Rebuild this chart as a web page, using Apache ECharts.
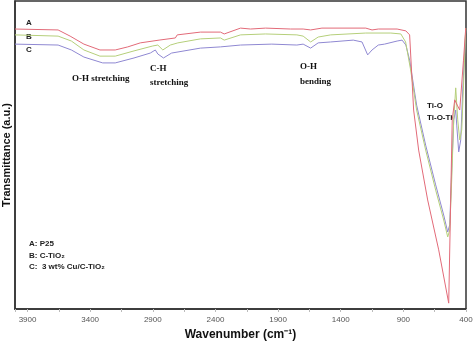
<!DOCTYPE html>
<html>
<head>
<meta charset="utf-8">
<script src="https://cdn.jsdelivr.net/npm/echarts@6/dist/echarts.min.js"></script>
<style>html,body{margin:0;padding:0;background:#fff}#c{width:474px;height:343px}</style>
</head>
<body>
<div id="c"></div>
<script>
// Wavenumber (cm-1) and transmittance (a.u., 0-100 scale)
const wnA = [4000,3656,3560,3450,3322,3200,3100,3000,2850,2720,2705,2520,2360,2330,2200,2120,2000,1800,1700,1640,1550,1200,1150,1100,950,880,850,818,778,706,618,538,510,490,470,450,420,402];
const tA  = [90.9,90.6,88.6,86.0,84.1,84.1,85.1,86.4,87.3,88.0,89.0,89.9,89.9,89.3,91.2,90.9,91.2,90.9,90.9,90.6,91.2,91.2,90.6,90.9,90.9,90.3,89.0,64.6,51.6,35.4,19.2,1.9,61.4,67.9,66.2,64.6,80.8,91.2];

const wnB = [4000,3656,3550,3450,3322,3200,3050,2900,2860,2820,2760,2700,2520,2360,2330,2200,2000,1750,1700,1640,1580,1480,1200,1000,920,882,842,794,722,642,578,546,530,514,498,482,466,450,434,418,402];
const tB  = [89.0,88.6,87.0,84.1,82.1,82.1,83.8,85.4,85.7,84.1,85.7,86.4,87.7,88.0,87.3,89.0,89.3,89.0,88.6,86.7,88.3,89.0,89.6,89.6,89.3,86.7,77.6,64.6,51.6,38.6,28.9,23.4,25.6,41.9,61.4,71.8,61.4,54.9,58.1,74.4,91.2];

const wnC = [4000,3656,3550,3450,3300,3200,3050,2920,2880,2860,2815,2750,2520,2360,2200,1950,1750,1700,1640,1580,1480,1300,1230,1185,1150,1100,1050,950,910,880,850,794,722,642,578,546,530,514,498,482,474,458,442,426,402];
const tC  = [86.0,85.7,84.1,81.8,79.9,79.9,81.5,83.1,84.1,82.8,81.5,83.1,84.7,85.1,85.7,86.0,85.7,86.0,84.7,86.4,86.7,87.3,86.7,82.5,84.1,85.7,86.0,87.0,87.3,85.7,80.8,66.2,53.2,40.3,30.5,25.0,27.3,45.1,61.4,64.6,59.7,51.0,54.9,71.1,90.6];

const xTicks = [3900,3400,2900,2400,1900,1400,900,400];
const seriesNames = ['A','B','C'];
const legendLines = ['A: P25','B: C-TiO₂','C:  3 wt% Cu/C-TiO₂'];

const zip = (a,b) => a.map((v,i)=>[v,b[i]]);
const chart = echarts.init(document.getElementById('c'), null, {renderer:'canvas'});

const serif = '"Liberation Serif", "DejaVu Serif", serif';
const sans = '"Liberation Sans", Arial, sans-serif';

const option = {
  animation:false,
  grid:{left:15,right:8,top:1,bottom:34,outerBoundsMode:'none',containLabel:false,show:true,borderColor:'#333',borderWidth:1.5,backgroundColor:'transparent'},
  xAxis:{
    type:'value', inverse:true, min:400, max:4000, interval:500,
    name:'Wavenumber (cm⁻¹)', nameLocation:'middle', nameGap:20,
    nameTextStyle:{fontFamily:sans,fontWeight:'bold',fontSize:12,color:'#111'},
    axisLine:{show:true,lineStyle:{color:'#333',width:1.5}},
    axisTick:{show:true,length:3,inside:false,lineStyle:{color:'#bbb'}},
    minorTick:{show:true,splitNumber:2,length:3,lineStyle:{color:'#bbb'}},
    axisLabel:{show:true,fontFamily:sans,fontSize:8,color:'#555',margin:7,showMaxLabel:false,hideOverlap:false,
      formatter:v=> xTicks.includes(v)? String(v):''},
    splitLine:{show:false}
  },
  yAxis:{
    type:'value', min:0, max:100,
    name:'Transmittance (a.u.)', nameLocation:'middle', nameGap:3, nameRotate:90,
    nameTextStyle:{fontFamily:sans,fontWeight:'bold',fontSize:11,color:'#111'},
    axisLine:{show:true,lineStyle:{color:'#333',width:1.5}},
    axisTick:{show:false}, axisLabel:{show:false}, splitLine:{show:false}
  },
  series:[
    {name:seriesNames[0],type:'line',data:zip(wnA,tA),showSymbol:false,lineStyle:{color:'#e26a78',width:1},z:3},
    {name:seriesNames[1],type:'line',data:zip(wnB,tB),showSymbol:false,lineStyle:{color:'#b5cf7a',width:1},z:2},
    {name:seriesNames[2],type:'line',data:zip(wnC,tC),showSymbol:false,lineStyle:{color:'#8f88d2',width:1},z:1}
  ],
  graphic:[
    {type:'text',left:26,top:19,style:{text:'A',font:'bold 8px '+sans,fill:'#222'}},
    {type:'text',left:26,top:33,style:{text:'B',font:'bold 8px '+sans,fill:'#222'}},
    {type:'text',left:26,top:46,style:{text:'C',font:'bold 8px '+sans,fill:'#222'}},
    {type:'text',left:72,top:74,style:{text:'O-H stretching',font:'bold 9px '+serif,fill:'#111'}},
    {type:'text',left:150,top:64,style:{text:'C-H',font:'bold 9px '+serif,fill:'#111'}},
    {type:'text',left:150,top:78,style:{text:'stretching',font:'bold 9px '+serif,fill:'#111'}},
    {type:'text',left:300,top:62,style:{text:'O-H',font:'bold 9px '+serif,fill:'#111'}},
    {type:'text',left:300,top:77,style:{text:'bending',font:'bold 9px '+serif,fill:'#111'}},
    {type:'text',left:427,top:102,style:{text:'Ti-O',font:'bold 8px '+sans,fill:'#111'}},
    {type:'text',left:427,top:114,style:{text:'Ti-O-Ti',font:'bold 8px '+sans,fill:'#111'}},
    {type:'text',left:29,top:240,style:{text:legendLines[0],font:'bold 8px '+sans,fill:'#222'}},
    {type:'text',left:29,top:252,style:{text:legendLines[1],font:'bold 8px '+sans,fill:'#222'}},
    {type:'text',left:29,top:263,style:{text:legendLines[2],font:'bold 8px '+sans,fill:'#222'}}
  ]
};
chart.setOption(option);
</script>
</body>
</html>
